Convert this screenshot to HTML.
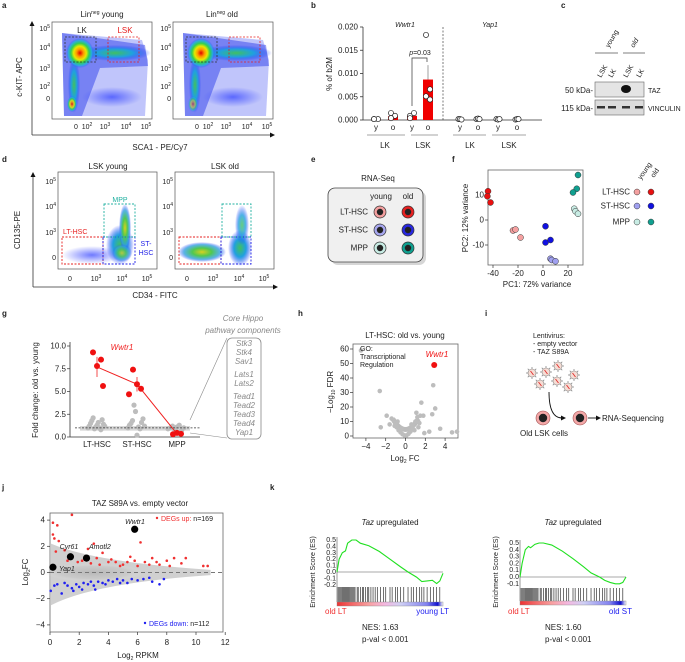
<!DOCTYPE html>
<html><head><meta charset="utf-8">
<style>
html,body{margin:0;padding:0;background:#fff;}
svg{display:block;font-family:"Liberation Sans",Arial,sans-serif;}
.pl{font-weight:bold;font-size:8px;}
.t{font-size:8px;}
.s{font-size:7px;}
</style></head>
<body>
<svg id="fig" width="685" height="662" viewBox="0 0 685 662" fill="#222" xmlns="http://www.w3.org/2000/svg">
<defs>
<radialGradient id="hot"><stop offset="0" stop-color="#e00000"/><stop offset="0.25" stop-color="#ff9900"/><stop offset="0.45" stop-color="#e8e800"/><stop offset="0.65" stop-color="#30d050"/><stop offset="0.85" stop-color="#20b0e0" stop-opacity="0.8"/><stop offset="1" stop-color="#3040ff" stop-opacity="0"/></radialGradient>
<radialGradient id="warm"><stop offset="0" stop-color="#d8d020"/><stop offset="0.4" stop-color="#50c850"/><stop offset="0.75" stop-color="#30a0e0" stop-opacity="0.8"/><stop offset="1" stop-color="#3040ff" stop-opacity="0"/></radialGradient>
<radialGradient id="cool"><stop offset="0" stop-color="#40c060"/><stop offset="0.5" stop-color="#20a0e0"/><stop offset="1" stop-color="#2030ff" stop-opacity="0"/></radialGradient>
<radialGradient id="blu"><stop offset="0" stop-color="#3040ff" stop-opacity="0.7"/><stop offset="1" stop-color="#3040ff" stop-opacity="0"/></radialGradient>
<radialGradient id="gry"><stop offset="0" stop-color="#b8b8b8"/><stop offset="0.7" stop-color="#c8c8c8" stop-opacity="0.8"/><stop offset="1" stop-color="#ddd" stop-opacity="0"/></radialGradient>
<linearGradient id="rb1" x1="0" x2="1"><stop offset="0" stop-color="#ee3333"/><stop offset="0.3" stop-color="#f8a0a0"/><stop offset="0.45" stop-color="#f4b8e0"/><stop offset="0.6" stop-color="#d0d0f4"/><stop offset="0.85" stop-color="#8080f0"/><stop offset="0.95" stop-color="#1010d0"/><stop offset="1" stop-color="#fff"/></linearGradient>
<clipPath id="ca1"><rect x="52" y="22" width="100" height="97"/></clipPath>
<clipPath id="ca2"><rect x="173" y="22" width="100" height="97"/></clipPath>
<clipPath id="cd1"><rect x="58" y="172" width="99" height="97"/></clipPath>
<clipPath id="cd2"><rect x="175" y="172" width="99" height="97"/></clipPath>
</defs>
</svg>
<script>
// ---- data ----
const bCats=['LK y','LK o','LSK y','LSK o'];
const bWwtr1Pts=[[0.0002,0.0002,0.0002],[0.0015,0.0009,0.0004],[0.0009,0.0015,0.0004],[0.0183,0.0066,0.0051,0.0044]];
const bWwtr1Bar=[0.0002,0.0008,0.0009,0.0087];
const bWwtr1Err=[0,0,0,0.0118];
const bYap1Pts=[[0.0002,0.0002,0.0001],[0.0002,0.0003,0.0002],[0.0002,0.0001,0.0002],[0.0001,0.0002,0.0002]];
const bTicks=[0,0.005,0.010,0.015,0.020];
const fOldLT=[[-44,11.5],[-44.5,9.5],[-42,7]];
const fYoungLT=[[-24,-4.2],[-22,-3.8],[-18,-7]];
const fOldST=[[2,-2.5],[2,-9],[6,-8]];
const fYoungST=[[6,-15.5],[7,-16],[10,-16.5]];
const fOldMPP=[[28,18],[27,12.5],[24,11]];
const fYoungMPP=[[25,4.5],[26,3.5],[28,2.5]];
const fXTicks=[-40,-20,0,20];
const fYTicks=[-10,0,10];
const gCats=['LT-HSC','ST-HSC','MPP'];
const gRed=[[9.3,8.5,7.8,5.6],[7.4,5.8,5.3,4.7],[0.3,0.45,0.35]];
const gMean=[7.7,5.8,0.35];
const gErr=[1.1,0.8,0.05];
const gGray=[[1.0,1.2,1.5,1.8,2.1,0.9,1.1,1.3,1.6,1.0,0.8,1.9,1.4,1.2],[1.0,1.3,1.5,1.8,3.5,2.8,0.2,1.1,0.9,1.6,2.0,1.2],[0.9,1.0,1.2,0.8,1.1,1.3,0.7,1.0]];
const gTicks=[0,2.5,5,7.5,10];
const hGray=[[-4.5,59],[-2.6,31],[-2.5,6],[-1.9,14],[-1.6,8],[-1.4,12],[-1.2,11],[-1.0,9],[-0.9,6],[-0.7,4],[-0.5,2.5],[-0.3,1.2],[-0.1,0.4],[0.1,0.4],[0.3,1.5],[0.5,3],[0.7,5],[0.8,7],[1.0,10],[1.1,16],[1.2,13],[1.4,9],[1.5,14],[1.6,23],[1.8,14],[1.9,2],[2.7,15],[2.8,35],[3.0,19],[2.4,3],[3.5,5],[4.7,2.5],[5.2,3],[-0.8,10],[-1.1,7],[0.9,4],[1.3,6],[0.6,8],[-0.4,5]];
const hWwtr1=[2.9,49];
const hXTicks=[-4,-2,0,2,4];
const hYTicks=[0,10,20,30,40,50,60];
const jRed=[[0.2,3.8],[0.5,3.6],[1.5,4.4],[0.3,2.6],[0.6,2.4],[1.0,1.7],[0.4,1.6],[2.6,1.8],[3.0,2.2],[3.2,1.1],[3.6,1.5],[4.0,0.8],[4.5,0.8],[5.0,0.6],[5.5,1.2],[6.2,2.3],[6.5,0.8],[7.0,1.1],[7.5,0.6],[8.0,0.9],[8.5,1.1],[9.0,0.7],[9.3,1.1],[10.5,0.5],[4.2,1.0],[2.2,0.9],[2.8,0.7],[3.4,0.6],[4.8,0.5],[5.3,0.8],[6.0,0.5],[6.8,0.6],[7.3,0.8],[8.2,0.5],[1.9,0.8],[5.8,0.9],[1.2,0.9],[0.2,2.9],[10.8,0.5]];
const jBlue=[[0.05,-1.4],[0.5,-0.9],[0.8,-1.6],[1.0,-0.8],[1.2,-1.0],[1.5,-1.2],[1.8,-0.9],[2.0,-1.1],[2.3,-0.8],[2.6,-0.9],[2.8,-0.7],[3.0,-1.0],[3.3,-0.7],[3.6,-0.8],[4.0,-0.6],[4.3,-0.7],[4.6,-0.5],[5.0,-0.6],[5.3,-0.8],[5.6,-0.5],[6.0,-0.6],[6.4,-0.5],[7.0,-0.7],[7.5,-0.9],[7.8,-0.5],[3.8,-0.9],[2.2,-1.3],[1.6,-1.4],[4.8,-0.8],[6.8,-0.4],[3.1,-1.3],[0.3,-1.0]];
const jGenes=[['Wwtr1',5.8,3.3],['Cyr61',1.4,1.2],['Amotl2',2.5,1.1],['Yap1',0.2,0.4]];
const jXTicks=[0,2,4,6,8,10,12];
const jYTicks=[-4,-2,0,2,4];
const kRank=[0,0.02,0.05,0.08,0.1,0.14,0.18,0.22,0.3,0.4,0.5,0.6,0.67,0.75,0.8,0.85,0.9,0.94,0.97,1];
const kES1=[0,0.2,0.3,0.33,0.45,0.5,0.5,0.45,0.41,0.32,0.2,0.08,0,-0.08,-0.15,-0.14,-0.13,-0.18,-0.14,-0.02];
const kES2=[0,0.2,0.4,0.45,0.43,0.48,0.5,0.5,0.47,0.38,0.27,0.15,0.06,0,-0.05,-0.08,-0.1,-0.1,-0.08,0];
const kHits=[0.01,0.02,0.03,0.04,0.05,0.06,0.07,0.08,0.09,0.1,0.11,0.12,0.13,0.14,0.15,0.16,0.17,0.19,0.2,0.22,0.24,0.25,0.27,0.29,0.3,0.32,0.34,0.36,0.38,0.41,0.44,0.46,0.5,0.52,0.55,0.57,0.6,0.63,0.67,0.7,0.72,0.75,0.78,0.8,0.82,0.85,0.88,0.91,0.94,0.97];
const kES1Ticks=[-0.2,-0.1,0,0.1,0.2,0.3,0.4,0.5];
const kES2Ticks=[-0.1,0,0.1,0.2,0.3,0.4,0.5];

// ---- helpers ----
const svg=document.getElementById('fig');
const NS='http://www.w3.org/2000/svg';
function mk(tag,attrs,parent){const e=document.createElementNS(NS,tag);for(const k in attrs)e.setAttribute(k,attrs[k]);(parent||svg).appendChild(e);return e;}
function txt(x,y,s,cls,extra,parent){const e=mk('text',Object.assign({x:x,y:y,class:cls||'t'},extra||{}),parent);e.innerHTML=s;return e;}
function grp(name){const g=mk('g',{});return g;}
function line(x1,y1,x2,y2,st,w,dash,p){return mk('line',{x1,y1,x2,y2,stroke:st||'#333','stroke-width':w||0.8,'stroke-dasharray':dash||'none'},p);}

const letters=[['a',2,8],['b',311,8],['c',561,8],['d',2,162],['e',311,162],['f',452,162],['g',2,316],['h',298,316],['i',485,316],['j',2,490],['k',270,490]];
letters.forEach(l=>{const t=txt(l[1],l[2],l[0],'pl');});

// ---- panel a ----
(function(){
const g=grp('panel-a-flow');
line(32,135,32,24,'#333',0.8,null,g);mk('path',{d:'M29.5,26 L32,21 L34.5,26Z',fill:'#111'},g);
line(32,135,272,135,'#333',0.8,null,g);mk('path',{d:'M270,132.5 L275,135 L270,137.5Z',fill:'#111'},g);
txt(22,77,'c-KIT- APC','t',{transform:'rotate(-90 22 77)','text-anchor':'middle'},g);
txt(160,150,'SCA1 - PE/Cy7','t',{'text-anchor':'middle'},g);
[[52,'Lin<tspan font-size="5" dy="-3">neg</tspan><tspan dy="3"> young</tspan>',102],[173,'Lin<tspan font-size="5" dy="-3">neg</tspan><tspan dy="3"> old</tspan>',222]].forEach((p,i)=>{
 const x0=p[0];const dx=x0-52;
 const f=grp('flow-plot-'+(i?'old':'young'));g.appendChild(f);
 txt(p[2],17,p[1],'t',{'text-anchor':'middle'},f);
 mk('rect',{x:x0,y:22,width:100,height:97,fill:'#fff',stroke:'#555','stroke-width':0.7},f);
 const c=mk('g',{'clip-path':`url(#ca${i+1})`},f);
 mk('path',{d:`M${62+dx},33 L${142+dx},40 L${148+dx},60 L${145+dx},116 L${64+dx},116 Z`,fill:'#4a58f4',opacity:0.35},c);
 mk('path',{d:`M${62+dx},33 L${145+dx},45 L${148+dx},66 L${100+dx},68 L${82+dx},116 L${64+dx},116 Z`,fill:'#2030e8',opacity:0.45},c);
 mk('ellipse',{cx:112+dx,cy:97,rx:30,ry:10,fill:'url(#blu)'},c);
 mk('ellipse',{cx:115+dx,cy:53,rx:36,ry:8,fill:'url(#cool)'},c);
 mk('ellipse',{cx:74+dx,cy:85,rx:6,ry:28,fill:'url(#cool)'},c);
 mk('ellipse',{cx:72+dx,cy:104,rx:5,ry:8,fill:'url(#hot)',opacity:i?0.5:0.85},c);
 mk('ellipse',{cx:80+dx,cy:53,rx:14,ry:15,fill:'url(#hot)'},c);
 mk('rect',{x:65+dx,y:37,width:31,height:25,fill:'none',stroke:'#333','stroke-dasharray':'2,1.5','stroke-width':0.8},f);
 mk('rect',{x:108+dx,y:37,width:31,height:25,fill:'none',stroke:'#e62020','stroke-dasharray':'2,1.5','stroke-width':0.8},f);
 const yl=[['10<tspan font-size="5" dy="-3">5</tspan>',31],['10<tspan font-size="5" dy="-3">4</tspan>',50],['10<tspan font-size="5" dy="-3">3</tspan>',71],['10<tspan font-size="5" dy="-3">2</tspan>',89],['0',101]];
 yl.forEach(t=>txt(x0-2,t[1],t[0],'s',{'text-anchor':'end'},f));
 const xl=[['0',76],['10<tspan font-size="5" dy="-3">2</tspan>',87],['10<tspan font-size="5" dy="-3">3</tspan>',105],['10<tspan font-size="5" dy="-3">4</tspan>',126],['10<tspan font-size="5" dy="-3">5</tspan>',146]];
 xl.forEach(t=>txt(t[1]+dx,129,t[0],'s',{'text-anchor':'middle'},f));
});
txt(82,33,'LK','t',{'text-anchor':'middle'},g);
txt(125,33,'LSK','t',{'text-anchor':'middle',fill:'#e62020'},g);
})();

// ---- panel b ----
(function(){
const g=grp('panel-b-qpcr');
const y=v=>120-v*4650;
const xW=[376,393,412,428],xY=[460,478,498,517];
line(363,27,363,120,'#333',0.8,null,g);line(363,120,542,120,'#333',0.8,null,g);
bTicks.forEach(t=>{line(360,y(t),363,y(t),'#333',0.8,null,g);txt(358,y(t)+2.5,t.toFixed(3),'t',{'text-anchor':'end'},g);});
txt(332,74,'% of b2M','t',{transform:'rotate(-90 332 74)','text-anchor':'middle'},g);
line(443,27,443,120,'#444',0.7,'2,1.5',g);
txt(405,27,'Wwtr1','s',{'font-style':'italic','text-anchor':'middle'},g);
txt(490,27,'Yap1','s',{'font-style':'italic','text-anchor':'middle'},g);
bCats.forEach((c,i)=>{
 const bh=bWwtr1Bar[i];
 const r=mk('rect',{x:xW[i]-5,y:y(bh),width:10,height:120-y(bh),fill:'#f00000'},g);
 
 if(bWwtr1Err[i])line(xW[i],y(bh),xW[i],y(bWwtr1Err[i]),'#888',0.8,null,g);
 bWwtr1Pts[i].forEach((v,k)=>mk('circle',{cx:xW[i]+(k%2?2:-2),cy:y(v),r:2.6,fill:'#fff',stroke:'#222','stroke-width':0.7},g));
 bYap1Pts[i].forEach((v,k)=>mk('circle',{cx:xY[i]+(k-1)*1.5,cy:y(v),r:2.6,fill:'#fff',stroke:'#222','stroke-width':0.7},g));
 txt(xW[i],130,i%2?'o':'y','t',{'text-anchor':'middle'},g);
 txt(xY[i],130,i%2?'o':'y','t',{'text-anchor':'middle'},g);
});
line(367,135,405,135,'#888',0.8,null,g);line(411,135,438,135,'#888',0.8,null,g);
line(453,135,486,135,'#888',0.8,null,g);line(492,135,526,135,'#888',0.8,null,g);
txt(385,148,'LK','t',{'text-anchor':'middle'},g);txt(423,148,'LSK','t',{'text-anchor':'middle'},g);
txt(470,148,'LK','t',{'text-anchor':'middle'},g);txt(509,148,'LSK','t',{'text-anchor':'middle'},g);
mk('path',{d:'M412,106 L412,58 L427,58 L427,62',fill:'none',stroke:'#333','stroke-width':0.7},g);
txt(420,55,'<tspan font-style="italic">p</tspan>=0.03','s',{'text-anchor':'middle'},g);
})();

// ---- panel c ----
(function(){
const g=grp('panel-c-western');
txt(609,48,'young','s',{transform:'rotate(-60 609 48)'},g);
txt(634,48,'old','s',{'font-style':'italic',transform:'rotate(-60 634 48)'},g);
line(595,53,618,53,'#555',0.8,null,g);line(623,53,645,53,'#555',0.8,null,g);
[['LSK',601],['LK',612],['LSK',627],['LK',640]].forEach(l=>txt(l[1],78,l[0],'s',{transform:`rotate(-60 ${l[1]} 78)`},g));
mk('rect',{x:595,y:82,width:49,height:15,fill:'#e4e4e4',stroke:'#666','stroke-width':0.6},g);
mk('rect',{x:595,y:100,width:49,height:15,fill:'#dcdcdc',stroke:'#666','stroke-width':0.6},g);
mk('ellipse',{cx:626,cy:89,rx:5,ry:4,fill:'#111'},g);
[601,612,626,639].forEach(x=>mk('rect',{x:x-4,y:106,width:8,height:2.5,fill:'#333'},g));
txt(593,93,'50 kDa-','t',{'text-anchor':'end'},g);txt(593,111,'115 kDa-','t',{'text-anchor':'end'},g);
txt(648,93,'TAZ','s',{},g);txt(648,111,'VINCULIN','s',{},g);
})();

// ---- panel d ----
(function(){
const g=grp('panel-d-flow');
line(33,287,33,175,'#333',0.8,null,g);mk('path',{d:'M30.5,177 L33,172 L35.5,177Z',fill:'#111'},g);
line(33,287,275,287,'#333',0.8,null,g);mk('path',{d:'M273,284.5 L278,287 L273,289.5Z',fill:'#111'},g);
txt(20,230,'CD135-PE','t',{transform:'rotate(-90 20 230)','text-anchor':'middle'},g);
txt(155,298,'CD34 - FITC','t',{'text-anchor':'middle'},g);
[[58,'LSK young'],[175,'LSK old']].forEach((p,i)=>{
 const x0=p[0],dx=x0-58;
 const f=grp('flow-plot-lsk-'+(i?'old':'young'));g.appendChild(f);
 txt(x0+50,169,p[1],'t',{'text-anchor':'middle'},f);
 mk('rect',{x:x0,y:172,width:99,height:97,fill:'#fff',stroke:'#555','stroke-width':0.7},f);
 const c=mk('g',{'clip-path':`url(#cd${i+1})`},f);
 if(!i){
  mk('ellipse',{cx:92,cy:255,rx:30,ry:9,fill:'url(#blu)'},c);
  mk('ellipse',{cx:120,cy:245,rx:14,ry:20,fill:'url(#cool)'},c);
  mk('ellipse',{cx:125,cy:228,rx:6,ry:24,fill:'url(#warm)'},c);
  mk('ellipse',{cx:122,cy:253,rx:10,ry:9,fill:'url(#warm)',opacity:0.8},c);
 }else{
  mk('ellipse',{cx:202,cy:252,rx:24,ry:10,fill:'url(#warm)'},c);
  mk('ellipse',{cx:240,cy:248,rx:12,ry:18,fill:'url(#cool)'},c);
  mk('ellipse',{cx:242,cy:225,rx:7,ry:20,fill:'url(#cool)',opacity:0.8},c);
 }
 const yl=[['10<tspan font-size="5" dy="-3">5</tspan>',184],['10<tspan font-size="5" dy="-3">4</tspan>',209],['10<tspan font-size="5" dy="-3">3</tspan>',235],['0',260]];
 yl.forEach(t=>txt(x0-2,t[1],t[0],'s',{'text-anchor':'end'},f));
 const xl=[['0',70],['10<tspan font-size="5" dy="-3">3</tspan>',96],['10<tspan font-size="5" dy="-3">4</tspan>',122],['10<tspan font-size="5" dy="-3">5</tspan>',147]];
 xl.forEach(t=>txt(t[1]+dx,281,t[0],'s',{'text-anchor':'middle'},f));
});
const boxes=[[62,237,41,27,'#e62020'],[103,237,32,27,'#2020e6'],[104,204,31,33,'#20b0a0'],[179,237,42,27,'#e62020'],[221,237,30,27,'#2020e6'],[222,204,29,33,'#20b0a0']];
boxes.forEach(b=>mk('rect',{x:b[0],y:b[1],width:b[2],height:b[3],fill:'none',stroke:b[4],'stroke-width':0.9,'stroke-dasharray':'2,1.5'},g));
txt(120,202,'MPP','s',{'text-anchor':'middle',fill:'#20b0a0'},g);
txt(63,234,'LT-HSC','s',{fill:'#e62020'},g);
txt(146,246,'ST-','s',{'text-anchor':'middle',fill:'#2020e6'},g);
txt(146,255,'HSC','s',{'text-anchor':'middle',fill:'#2020e6'},g);
})();

// ---- panel e ----
(function(){
const g=grp('panel-e-rnaseq-design');
txt(378,181,'RNA-Seq','t',{'text-anchor':'middle'},g);
mk('rect',{x:331,y:191,width:95,height:74,rx:7,fill:'#bbb',opacity:0.6},g);
mk('rect',{x:328,y:188,width:95,height:74,rx:7,fill:'#f0f0f0',stroke:'#444','stroke-width':0.8},g);
txt(381,199,'young','t',{'text-anchor':'middle'},g);txt(408,199,'old','t',{'text-anchor':'middle'},g);
const rows=[['LT-HSC','#f4a0a0','#e82020',212],['ST-HSC','#a8a8f0','#2828e0',230],['MPP','#c8ece4','#10a090',248]];
rows.forEach(r=>{txt(368,r[3]+2.5,r[0],'t',{'text-anchor':'end'},g);
 [[380,r[1]],[408,r[2]]].forEach(c=>{mk('circle',{cx:c[0],cy:r[3],r:6,fill:c[1],stroke:'#333','stroke-width':0.7},g);mk('circle',{cx:c[0],cy:r[3],r:3.2,fill:'#222'},g);});});
})();

// ---- panel f ----
(function(){
const g=grp('panel-f-pca');
const X=v=>493+(v+40)*1.25, Y=v=>220-v*2.5;
mk('rect',{x:488,y:170,width:95,height:95,fill:'#fff',stroke:'#666','stroke-width':0.8},g);
fXTicks.forEach(t=>{line(X(t),265,X(t),268,'#333',0.7,null,g);txt(X(t),276,t,'t',{'text-anchor':'middle'},g);});
fYTicks.forEach(t=>{line(485,Y(t),488,Y(t),'#333',0.7,null,g);txt(484,Y(t)+2.5,t,'t',{'text-anchor':'end'},g);});
txt(537,287,'PC1: 72% variance','t',{'text-anchor':'middle'},g);
txt(468,218,'PC2: 12% variance','t',{transform:'rotate(-90 468 218)','text-anchor':'middle'},g);
const series=[[fYoungLT,'#f4a0a0','young-lt'],[fOldLT,'#e81010','old-lt'],[fYoungST,'#a0a0f0','young-st'],[fOldST,'#1010e0','old-st'],[fYoungMPP,'#c8ece4','young-mpp'],[fOldMPP,'#10a090','old-mpp']];
series.forEach(s=>s[0].forEach(p=>{const c=mk('circle',{cx:X(p[0]),cy:Y(p[1]),r:3,fill:s[1],stroke:'#333','stroke-width':0.5},g);}));
const lg=grp('pca-legend');g.appendChild(lg);
txt(641,180,'young','s',{transform:'rotate(-55 641 180)'},lg);txt(654,178,'old','s',{transform:'rotate(-55 654 178)'},lg);
[['LT-HSC','#f4a0a0','#e81010',192],['ST-HSC','#a0a0f0','#1010e0',206],['MPP','#c8ece4','#10a090',222]].forEach(r=>{
 txt(630,r[3]+2.5,r[0],'t',{'text-anchor':'end'},lg);
 mk('circle',{cx:637,cy:r[3],r:3,fill:r[1],stroke:'#333','stroke-width':0.5},lg);
 mk('circle',{cx:651,cy:r[3],r:3,fill:r[2],stroke:'#333','stroke-width':0.5},lg);});
})();

// ---- panel g ----
(function(){
const g=grp('panel-g-foldchange');
const Y=v=>437-v*9.1; const xs=[97,137,177];
line(70,342,70,437,'#333',0.8,null,g);line(70,437,200,437,'#333',0.8,null,g);
gTicks.forEach(t=>{line(67,Y(t),70,Y(t),'#333',0.7,null,g);txt(66,Y(t)+2.5,t.toFixed(1),'t',{'text-anchor':'end'},g);});
gCats.forEach((c,i)=>txt(xs[i],447,c,'t',{'text-anchor':'middle'},g));
txt(38,390,'Fold change: old vs. young','t',{transform:'rotate(-90 38 390)','text-anchor':'middle'},g);
mk('rect',{x:80,y:Y(1.2),width:110,height:Y(0.7)-Y(1.2),fill:'#ccc',opacity:0.8},g);
gGray.forEach((arr,i)=>arr.forEach((v,k)=>mk('circle',{cx:xs[i]-9+(k*18/arr.length),cy:Y(v),r:2.6,fill:'#bdbdbd'},g)));
line(75,Y(1),200,Y(1),'#333',0.7,'2,1.5',g);
const pts=gMean.map((m,i)=>`${xs[i]},${Y(m)}`).join(' ');
mk('polyline',{points:pts,fill:'none',stroke:'#f02020','stroke-width':1},g);
gMean.forEach((m,i)=>{line(xs[i],Y(m-gErr[i]),xs[i],Y(m+gErr[i]),'#f02020',0.8,null,g);});
const off=[[-1,1,0,1.5],[-1,0,1,-2],[-1,0,1]];
gRed.forEach((arr,i)=>arr.forEach((v,k)=>{const c=mk('circle',{cx:xs[i]+off[i][k]*4,cy:Y(v),r:3,fill:'#f01010'},g);}));
txt(122,350,'Wwtr1','t',{'font-style':'italic',fill:'#f02020','text-anchor':'middle'},g);
txt(243,321,'Core Hippo','t',{'font-style':'italic',fill:'#888','text-anchor':'middle'},g);
txt(243,333,'pathway components','t',{'font-style':'italic',fill:'#888','text-anchor':'middle'},g);
mk('rect',{x:227,y:338,width:34,height:101,rx:5,fill:'#fff',stroke:'#888','stroke-width':0.8},g);
line(190,420,227,338,'#888',0.6,null,g);line(190,433,227,438,'#888',0.6,null,g);
[['Stk3',346],['Stk4',355],['Sav1',364],['Lats1',377],['Lats2',386],['Tead1',399],['Tead2',408],['Tead3',417],['Tead4',426],['Yap1',435]].forEach(n=>txt(244,n[1],n[0],'t',{'font-style':'italic',fill:'#888','text-anchor':'middle'},g));
})();

// ---- panel h ----
(function(){
const g=grp('panel-h-volcano');
const X=v=>405.5+v*9.9, Y=v=>436-v*1.45;
txt(405,338,'LT-HSC: old vs. young','t',{'text-anchor':'middle'},g);
mk('rect',{x:353,y:344,width:105,height:94,fill:'#fff',stroke:'#666','stroke-width':0.8},g);
hXTicks.forEach(t=>{line(X(t),438,X(t),441,'#333',0.7,null,g);txt(X(t),449,t<0?'−'+(-t):t,'t',{'text-anchor':'middle'},g);});
hYTicks.forEach(t=>{line(350,Y(t),353,Y(t),'#333',0.7,null,g);txt(349,Y(t)+2.5,t,'t',{'text-anchor':'end'},g);});
txt(405,461,'Log<tspan font-size="5" dy="2">2</tspan><tspan dy="-2"> FC</tspan>','t',{'text-anchor':'middle'},g);
txt(333,392,'−Log<tspan font-size="5" dy="2">10</tspan><tspan dy="-2"> FDR</tspan>','t',{transform:'rotate(-90 333 392)','text-anchor':'middle'},g);
mk('path',{d:`M${X(-1.3)},${Y(12)} Q${X(0)},${Y(-3)} ${X(1.3)},${Y(12)}`,fill:'none',stroke:'#bbb','stroke-width':5},g);
hGray.forEach(p=>mk('circle',{cx:X(p[0]),cy:Y(p[1]),r:2.3,fill:'#bdbdbd'},g));
const w=mk('circle',{cx:X(hWwtr1[0]),cy:Y(hWwtr1[1]),r:3,fill:'#f01010'},g);
txt(437,357,'Wwtr1','t',{'font-style':'italic',fill:'#f01010','text-anchor':'middle'},g);
txt(360,351,'GO:','s',{},g);txt(360,359,'Transcriptional','s',{},g);txt(360,367,'Regulation','s',{},g);
})();

// ---- panel i ----
(function(){
const g=grp('panel-i-lentivirus');
txt(533,338,'Lentivirus:','s',{},g);txt(533,346,'- empty vector','s',{},g);txt(533,354,'- TAZ S89A','s',{},g);
[[532,373],[546,372],[558,366],[574,375],[540,384],[557,381],[568,387]].forEach(c=>{
 for(let a=0;a<8;a++){const r=a*Math.PI/4;line(c[0]+Math.cos(r)*4,c[1]+Math.sin(r)*4,c[0]+Math.cos(r)*6,c[1]+Math.sin(r)*6,'#888',0.8,null,g);}
 mk('circle',{cx:c[0],cy:c[1],r:4,fill:'#f5ddd5',stroke:'#888','stroke-width':0.6},g);
 line(c[0]-1.5,c[1]-2,c[0]+1.5,c[1]+2,'#e03030',0.9,null,g);});
mk('path',{d:'M549,392 Q549,418 562,418',fill:'none',stroke:'#111','stroke-width':0.9},g);
mk('path',{d:'M561,415.5 L566,418 L561,420.5Z',fill:'#111'},g);
[543,580].forEach(x=>{mk('circle',{cx:x,cy:418,r:7,fill:'#f4a8a8',stroke:'#a05050','stroke-width':0.6},g);mk('circle',{cx:x,cy:418,r:4.2,fill:'#222'},g);});
line(588,418,597,418,'#111',0.9,null,g);mk('path',{d:'M596,415.5 L601,418 L596,420.5Z',fill:'#111'},g);
txt(602,421,'RNA-Sequencing','t',{},g);
txt(544,436,'Old LSK cells','t',{'text-anchor':'middle'},g);
})();

// ---- panel j ----
(function(){
const g=grp('panel-j-maplot');
const X=v=>50+v*14.6, Y=v=>572.5-v*13.1;
txt(140,506,'TAZ S89A vs. empty vector','t',{'text-anchor':'middle'},g);
mk('rect',{x:50,y:513,width:173,height:119,fill:'#fff',stroke:'#666','stroke-width':0.8},g);
mk('path',{d:`M51,${Y(2.2)} Q${X(3)},${Y(0.8)} ${X(11)},${Y(0.2)} L${X(11)},${Y(-0.2)} Q${X(3)},${Y(-0.8)} 51,${Y(-2.5)} Z`,fill:'#c8c8c8',opacity:0.85},g);
mk('ellipse',{cx:X(3),cy:Y(0),rx:50,ry:9,fill:'url(#gry)'},g);
line(50,Y(0),223,Y(0),'#777',1,'4,3',g);
jXTicks.forEach(t=>{line(X(t),632,X(t),635,'#333',0.7,null,g);txt(X(t),645,t,'t',{'text-anchor':'middle'},g);});
jYTicks.forEach(t=>{line(47,Y(t),50,Y(t),'#333',0.7,null,g);txt(45,Y(t)+2.5,t<0?'−'+(-t):t,'t',{'text-anchor':'end'},g);});
txt(138,658,'Log<tspan font-size="5" dy="2">2</tspan><tspan dy="-2"> RPKM</tspan>','t',{'text-anchor':'middle'},g);
txt(28,572,'Log<tspan font-size="5" dy="2">2</tspan><tspan dy="-2">FC</tspan>','t',{transform:'rotate(-90 28 572)','text-anchor':'middle'},g);
jRed.forEach(p=>mk('circle',{cx:X(p[0]),cy:Y(p[1]),r:1.3,fill:'#f03030'},g));
jBlue.forEach(p=>mk('circle',{cx:X(p[0]),cy:Y(p[1]),r:1.3,fill:'#2020f0'},g));
jGenes.forEach(gn=>{const c=mk('circle',{cx:X(gn[1]),cy:Y(gn[2]),r:3.6,fill:'#000'},g);});
txt(135,524,'Wwtr1','s',{'font-style':'italic','text-anchor':'middle'},g);
txt(69,549,'Cyr61','s',{'font-style':'italic','text-anchor':'middle'},g);
txt(89,549,'Amotl2','s',{'font-style':'italic'},g);
txt(59,571,'Yap1','s',{'font-style':'italic'},g);
mk('circle',{cx:157,cy:518,r:1.2,fill:'#f03030'},g);
txt(161,521,'DEGs up:<tspan fill="#222"> n=169</tspan>','s',{fill:'#f03030'},g);
mk('circle',{cx:145,cy:623,r:1.2,fill:'#2020f0'},g);
txt(149,626,'DEGs down:<tspan fill="#222"> n=112</tspan>','s',{fill:'#2020f0'},g);
})();

// ---- panel k ----
function gsea(name,x0,x1,yZero,scale,es,ticks,hitTop,hitBot,left,right,nes){
 const g=grp(name);
 const X=f=>x0+f*(x1-x0), Y=v=>yZero-v*scale;
 txt((x0+x1)/2,525,'<tspan font-style="italic">Taz</tspan> upregulated','t',{'text-anchor':'middle','font-size':'8.5'},g);
 ticks.forEach(t=>txt(x0-1,Y(t)+2,t.toFixed(1),'s',{'text-anchor':'end'},g));
 line(x0,Y(ticks[ticks.length-1])-3,x0,hitBot,'#555',0.6,null,g);
 line(x0,Y(0),x1,Y(0),'#555',0.6,null,g);
 txt(x0-22,572,'Enrichment Score (ES)','s',{'font-size':'5.5',transform:`rotate(-90 ${x0-22} 572)`,'text-anchor':'middle'},g);
 const pts=kRank.map((r,i)=>`${X(r)},${Y(es[i])}`).join(' ');
 const c=mk('polyline',{points:pts,fill:'none',stroke:'#20e020','stroke-width':1.1},g);
 kHits.forEach(h=>line(X(h),hitTop,X(h),hitBot,'#111',0.6,null,g));
 mk('rect',{x:x0,y:hitBot,width:x1-x0,height:4,fill:'url(#rb1)',stroke:'#888','stroke-width':0.4},g);
 txt(x0-12,614,left,'t',{fill:'#f03030','font-size':'8.5'},g);
 txt(x1+6,614,right,'t',{fill:'#2020f0','font-size':'8.5','text-anchor':'end'},g);
 txt(x0+25,630,'NES: '+nes,'t',{'font-size':'8.5'},g);
 txt(x0+25,642,'p-val &lt; 0.001','t',{'font-size':'8.5'},g);
}
gsea('panel-k-gsea-young',337,443,572,64,kES1,kES1Ticks,587,602,'old LT','young LT','1.63');
gsea('panel-k-gsea-st',520,626,577,68,kES2,kES2Ticks,588,601,'old LT','old ST','1.60');
</script>
</body></html>
